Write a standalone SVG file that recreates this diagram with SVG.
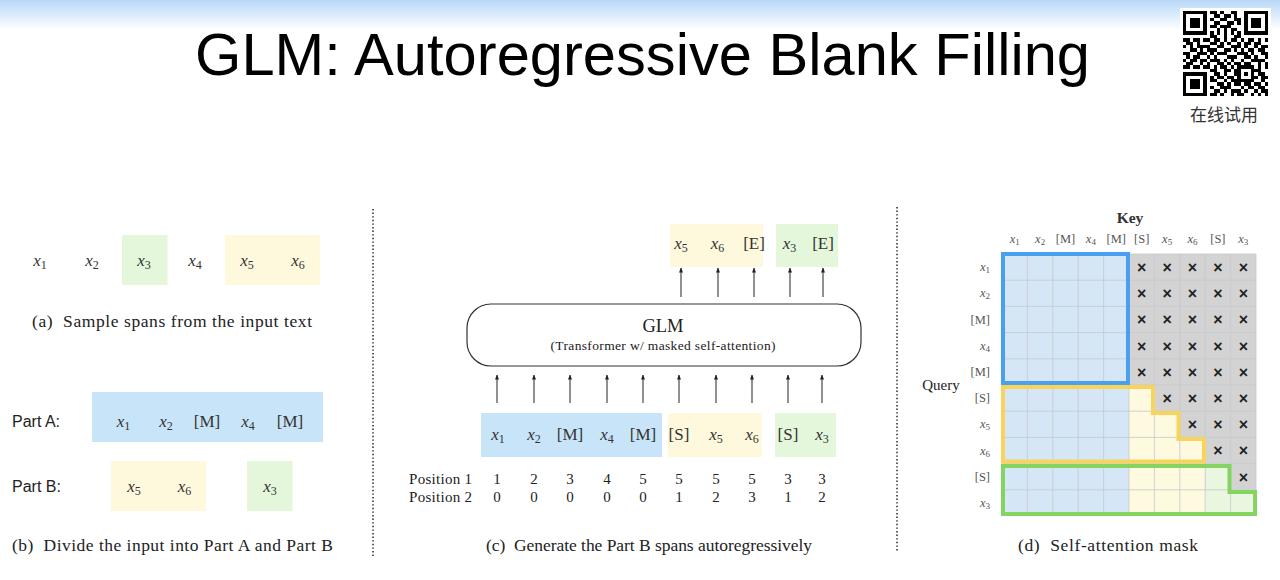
<svg xmlns="http://www.w3.org/2000/svg" width="1280" height="580" viewBox="0 0 1280 580">
<defs>
<linearGradient id="topg" x1="0" y1="0" x2="0" y2="1">
<stop offset="0" stop-color="#b9d8f8"/>
<stop offset="1" stop-color="#ffffff"/>
</linearGradient>
<marker id="ah" viewBox="0 0 10 10" refX="9" refY="5" markerWidth="5" markerHeight="5" orient="auto">
<path d="M0,1 L10,5 L0,9 z" fill="#222"/>
</marker>
<style>
.sf{font-family:"Liberation Serif","Times New Roman",serif}
.tok{font-family:"Liberation Serif","Times New Roman",serif;font-size:17px;fill:#333;text-anchor:middle}
.m{font-style:italic}
.sub{font-size:12px}
.cap{font-family:"Liberation Serif","Times New Roman",serif;font-size:17.5px;fill:#222}
.lab{font-family:"Liberation Sans",Arial,sans-serif;font-size:16px;fill:#222}
.pos{font-family:"Liberation Serif","Times New Roman",serif;font-size:15px;fill:#222}
.num{font-family:"Liberation Serif","Times New Roman",serif;font-size:15px;fill:#222;text-anchor:middle}
.ml{font-family:"Liberation Serif","Times New Roman",serif;font-size:12.5px;fill:#555}
.msub{font-size:9px}
.kx{font-family:"Liberation Sans",Arial,sans-serif;font-size:16px;font-weight:bold;fill:#222;text-anchor:middle}
.blue{fill:#c8e4f8}
.yel{fill:#fef8dc}
.grn{fill:#e4f7da}
.arr{stroke:#222;stroke-width:1;fill:none;marker-end:url(#ah)}
.dots{stroke:#333;stroke-width:1.6;stroke-dasharray:1.4 2.2;fill:none}
.gl{stroke:#c6c8cc;stroke-width:0.8}
</style>
</defs>
<rect x="0" y="0" width="1280" height="580" fill="#ffffff"/>
<rect x="0" y="0" width="1280" height="30" fill="url(#topg)"/>

<g id="title">
<text x="195" y="75" font-family="Liberation Sans, Arial, sans-serif" font-size="59.5" fill="#000" textLength="895" lengthAdjust="spacingAndGlyphs">GLM: Autoregressive Blank Filling</text>
</g>

<g id="qrcode">
<rect x="1180" y="8" width="91" height="91" fill="#fff"/>
<path transform="translate(1183,11) scale(3.4)" fill="#000" shape-rendering="crispEdges" d="
M0 0h7v1h-7z M8 0h2v1h-2z M11 0h1v1h-1z M14 0h2v1h-2z M18 0h7v1h-7z
M0 1h1v1h-1z M6 1h1v1h-1z M9 1h2v1h-2z M12 1h2v1h-2z M15 1h1v1h-1z M18 1h1v1h-1z M24 1h1v1h-1z
M0 2h1v1h-1z M2 2h3v1h-3z M6 2h1v1h-1z M8 2h1v1h-1z M11 2h2v1h-2z M15 2h2v1h-2z M18 2h1v1h-1z M20 2h3v1h-3z M24 2h1v1h-1z
M0 3h1v1h-1z M2 3h3v1h-3z M6 3h1v1h-1z M9 3h2v1h-2z M13 3h2v1h-2z M16 3h1v1h-1z M18 3h1v1h-1z M20 3h3v1h-3z M24 3h1v1h-1z
M0 4h1v1h-1z M2 4h3v1h-3z M6 4h1v1h-1z M8 4h2v1h-2z M11 4h3v1h-3z M18 4h1v1h-1z M20 4h3v1h-3z M24 4h1v1h-1z
M0 5h1v1h-1z M6 5h1v1h-1z M10 5h1v1h-1z M12 5h1v1h-1z M14 5h2v1h-2z M18 5h1v1h-1z M24 5h1v1h-1z
M0 6h7v1h-7z M8 6h1v1h-1z M10 6h1v1h-1z M12 6h1v1h-1z M14 6h1v1h-1z M16 6h1v1h-1z M18 6h7v1h-7z
M8 7h2v1h-2z M12 7h1v1h-1z M15 7h2v1h-2z
M0 8h2v1h-2z M3 8h2v1h-2z M6 8h2v1h-2z M9 8h2v1h-2z M12 8h1v1h-1z M14 8h2v1h-2z M17 8h1v1h-1z M19 8h2v1h-2z M22 8h1v1h-1z M24 8h1v1h-1z
M1 9h2v1h-2z M4 9h1v1h-1z M8 9h2v1h-2z M11 9h1v1h-1z M13 9h1v1h-1z M16 9h1v1h-1z M18 9h2v1h-2z M21 9h2v1h-2z
M0 10h1v1h-1z M2 10h1v1h-1z M4 10h4v1h-4z M10 10h2v1h-2z M14 10h3v1h-3z M18 10h1v1h-1z M21 10h1v1h-1z M23 10h2v1h-2z
M2 11h2v1h-2z M5 11h1v1h-1z M7 11h3v1h-3z M12 11h2v1h-2z M15 11h1v1h-1z M17 11h1v1h-1z M19 11h2v1h-2z M22 11h2v1h-2z
M0 12h2v1h-2z M4 12h3v1h-3z M8 12h1v1h-1z M10 12h3v1h-3z M16 12h3v1h-3z M20 12h1v1h-1z M23 12h2v1h-2z
M1 13h1v1h-1z M3 13h2v1h-2z M7 13h1v1h-1z M9 13h1v1h-1z M13 13h3v1h-3z M18 13h2v1h-2z M21 13h1v1h-1z M24 13h1v1h-1z
M0 14h1v1h-1z M2 14h2v1h-2z M5 14h2v1h-2z M8 14h3v1h-3z M12 14h1v1h-1z M14 14h1v1h-1z M17 14h1v1h-1z M20 14h4v1h-4z
M1 15h2v1h-2z M5 15h1v1h-1z M7 15h1v1h-1z M10 15h2v1h-2z M13 15h1v1h-1z M15 15h2v1h-2z M18 15h2v1h-2z M22 15h1v1h-1z M24 15h1v1h-1z
M0 16h2v1h-2z M3 16h2v1h-2z M6 16h2v1h-2z M9 16h1v1h-1z M11 16h2v1h-2z M14 16h1v1h-1z M16 16h5v1h-5z M22 16h1v1h-1z M24 16h1v1h-1z
M8 17h2v1h-2z M12 17h2v1h-2z M15 17h2v1h-2z M20 17h3v1h-3z
M0 18h7v1h-7z M9 18h2v1h-2z M12 18h1v1h-1z M15 18h2v1h-2z M18 18h1v1h-1z M20 18h1v1h-1z M22 18h2v1h-2z
M0 19h1v1h-1z M6 19h1v1h-1z M8 19h1v1h-1z M10 19h2v1h-2z M13 19h2v1h-2z M16 19h1v1h-1z M20 19h2v1h-2z M23 19h2v1h-2z
M0 20h1v1h-1z M2 20h3v1h-3z M6 20h1v1h-1z M8 20h2v1h-2z M12 20h1v1h-1z M14 20h7v1h-7z M23 20h1v1h-1z
M0 21h1v1h-1z M2 21h3v1h-3z M6 21h1v1h-1z M10 21h2v1h-2z M13 21h1v1h-1z M15 21h2v1h-2z M18 21h2v1h-2z M21 21h2v1h-2z M24 21h1v1h-1z
M0 22h1v1h-1z M2 22h3v1h-3z M6 22h1v1h-1z M8 22h1v1h-1z M11 22h3v1h-3z M17 22h1v1h-1z M19 22h2v1h-2z M22 22h2v1h-2z
M0 23h1v1h-1z M6 23h1v1h-1z M9 23h2v1h-2z M12 23h1v1h-1z M14 23h3v1h-3z M18 23h1v1h-1z M21 23h1v1h-1z M23 23h2v1h-2z
M0 24h7v1h-7z M8 24h2v1h-2z M11 24h1v1h-1z M14 24h1v1h-1z M16 24h2v1h-2z M20 24h1v1h-1z M22 24h1v1h-1z M24 24h1v1h-1z"/>
<text x="1224" y="121" text-anchor="middle" font-family="Noto Sans CJK SC, sans-serif" font-size="17" fill="#333">在线试用</text>
</g>

<g id="separators">
<line class="dots" x1="373" y1="209" x2="373" y2="556"/>
<line class="dots" x1="897" y1="207" x2="897" y2="552"/>
</g>

<!-- Panel (a) -->
<g id="panel-a">
<rect class="grn" x="122" y="235" width="45.5" height="50"/>
<rect class="yel" x="225" y="235" width="95" height="50"/>
<text class="tok" x="40" y="266"><tspan class="m">x</tspan><tspan class="sub" dy="3">1</tspan></text>
<text class="tok" x="92" y="266"><tspan class="m">x</tspan><tspan class="sub" dy="3">2</tspan></text>
<text class="tok" x="144" y="266"><tspan class="m">x</tspan><tspan class="sub" dy="3">3</tspan></text>
<text class="tok" x="195" y="266"><tspan class="m">x</tspan><tspan class="sub" dy="3">4</tspan></text>
<text class="tok" x="247" y="266"><tspan class="m">x</tspan><tspan class="sub" dy="3">5</tspan></text>
<text class="tok" x="298" y="266"><tspan class="m">x</tspan><tspan class="sub" dy="3">6</tspan></text>
<text class="cap" x="32" y="327" textLength="280" lengthAdjust="spacing">(a)&#160; Sample spans from the input text</text>
</g>

<!-- Panel (b) -->
<g id="panel-b">
<text class="lab" x="12" y="427">Part A:</text>
<rect class="blue" x="92" y="392" width="231" height="50"/>
<text class="tok" x="123.5" y="427"><tspan class="m">x</tspan><tspan class="sub" dy="3">1</tspan></text>
<text class="tok" x="166" y="427"><tspan class="m">x</tspan><tspan class="sub" dy="3">2</tspan></text>
<text class="tok" x="207" y="427">[M]</text>
<text class="tok" x="248" y="427"><tspan class="m">x</tspan><tspan class="sub" dy="3">4</tspan></text>
<text class="tok" x="290" y="427">[M]</text>
<text class="lab" x="12" y="492">Part B:</text>
<rect class="yel" x="111" y="461" width="95" height="50"/>
<rect class="grn" x="247" y="461" width="45.5" height="50"/>
<text class="tok" x="134" y="492"><tspan class="m">x</tspan><tspan class="sub" dy="3">5</tspan></text>
<text class="tok" x="184.5" y="492"><tspan class="m">x</tspan><tspan class="sub" dy="3">6</tspan></text>
<text class="tok" x="270" y="492"><tspan class="m">x</tspan><tspan class="sub" dy="3">3</tspan></text>
<text class="cap" x="12" y="551" textLength="321" lengthAdjust="spacing">(b)&#160; Divide the input into Part A and Part B</text>
</g>

<!-- Panel (c) -->
<g id="panel-c-outputs">
<rect class="yel" x="670" y="224" width="93" height="43"/>
<rect class="grn" x="776" y="224" width="62" height="43"/>
<text class="tok" x="681" y="249"><tspan class="m">x</tspan><tspan class="sub" dy="3">5</tspan></text>
<text class="tok" x="717.5" y="249"><tspan class="m">x</tspan><tspan class="sub" dy="3">6</tspan></text>
<text class="tok" x="754" y="249">[E]</text>
<text class="tok" x="789.5" y="249"><tspan class="m">x</tspan><tspan class="sub" dy="3">3</tspan></text>
<text class="tok" x="823" y="249">[E]</text>
</g>

<g id="glm-box">
<rect x="467" y="304" width="394" height="62" rx="24" ry="24" fill="#fff" stroke="#333" stroke-width="1.2"/>
<text class="sf" x="663" y="332" text-anchor="middle" font-size="18.5" fill="#222">GLM</text>
<text class="sf" x="663" y="350" text-anchor="middle" font-size="13.5" fill="#222" textLength="225" lengthAdjust="spacing">(Transformer w/ masked self-attention)</text>
</g>

<g id="panel-c-inputs">
<rect class="blue" x="481" y="413" width="181" height="44"/>
<rect class="yel" x="668" y="413" width="94" height="44"/>
<rect class="grn" x="775" y="413" width="61" height="44"/>
<text class="tok" x="498" y="440"><tspan class="m">x</tspan><tspan class="sub" dy="3">1</tspan></text>
<text class="tok" x="534" y="440"><tspan class="m">x</tspan><tspan class="sub" dy="3">2</tspan></text>
<text class="tok" x="570" y="440">[M]</text>
<text class="tok" x="607" y="440"><tspan class="m">x</tspan><tspan class="sub" dy="3">4</tspan></text>
<text class="tok" x="643" y="440">[M]</text>
<text class="tok" x="679" y="440">[S]</text>
<text class="tok" x="716" y="440"><tspan class="m">x</tspan><tspan class="sub" dy="3">5</tspan></text>
<text class="tok" x="752" y="440"><tspan class="m">x</tspan><tspan class="sub" dy="3">6</tspan></text>
<text class="tok" x="788" y="440">[S]</text>
<text class="tok" x="822" y="440"><tspan class="m">x</tspan><tspan class="sub" dy="3">3</tspan></text>
</g>

<g id="positions">
<text class="pos" x="409" y="484" textLength="63" lengthAdjust="spacing">Position 1</text>
<text class="pos" x="409" y="502" textLength="63" lengthAdjust="spacing">Position 2</text>
<text class="num" x="497" y="484">1</text><text class="num" x="534" y="484">2</text><text class="num" x="570" y="484">3</text><text class="num" x="607" y="484">4</text><text class="num" x="643" y="484">5</text>
<text class="num" x="679" y="484">5</text><text class="num" x="716" y="484">5</text><text class="num" x="752" y="484">5</text><text class="num" x="788" y="484">3</text><text class="num" x="822" y="484">3</text>
<text class="num" x="497" y="502">0</text><text class="num" x="534" y="502">0</text><text class="num" x="570" y="502">0</text><text class="num" x="607" y="502">0</text><text class="num" x="643" y="502">0</text>
<text class="num" x="679" y="502">1</text><text class="num" x="716" y="502">2</text><text class="num" x="752" y="502">3</text><text class="num" x="788" y="502">1</text><text class="num" x="822" y="502">2</text>
<text class="cap" x="486" y="551" textLength="326" lengthAdjust="spacing">(c)&#160; Generate the Part B spans autoregressively</text>
</g>

<g id="connectors">
<line class="arr" x1="497" y1="403" x2="497" y2="375"/>
<line class="arr" x1="534" y1="403" x2="534" y2="375"/>
<line class="arr" x1="570" y1="403" x2="570" y2="375"/>
<line class="arr" x1="607" y1="403" x2="607" y2="375"/>
<line class="arr" x1="643" y1="403" x2="643" y2="375"/>
<line class="arr" x1="679" y1="403" x2="679" y2="375"/>
<line class="arr" x1="716" y1="403" x2="716" y2="375"/>
<line class="arr" x1="752" y1="403" x2="752" y2="375"/>
<line class="arr" x1="788" y1="403" x2="788" y2="375"/>
<line class="arr" x1="822" y1="403" x2="822" y2="375"/>
<line class="arr" x1="681" y1="297" x2="681" y2="268"/>
<line class="arr" x1="718" y1="297" x2="718" y2="268"/>
<line class="arr" x1="754" y1="297" x2="754" y2="268"/>
<line class="arr" x1="790" y1="297" x2="790" y2="268"/>
<line class="arr" x1="823" y1="297" x2="823" y2="268"/>
</g>

<!-- Panel (d) -->
<g id="mask-matrix">
<rect x="1002" y="254" width="127" height="262" fill="#d5e6f6"/>
<rect x="1129" y="254" width="127" height="236" fill="#d3d3d3"/>
<polygon points="1129,385 1154.4,385 1154.4,411.2 1179.8,411.2 1179.8,437.4 1205.2,437.4 1205.2,516 1129,516" fill="#fdfae0"/>
<polygon points="1205.2,463.6 1230.6,463.6 1230.6,489.8 1256,489.8 1256,516 1205.2,516" fill="#eaf7e0"/>
<g class="gl">
<line x1="1027.4" y1="254" x2="1027.4" y2="516"/><line x1="1052.8" y1="254" x2="1052.8" y2="516"/><line x1="1078.2" y1="254" x2="1078.2" y2="516"/><line x1="1103.6" y1="254" x2="1103.6" y2="516"/><line x1="1129" y1="254" x2="1129" y2="516"/><line x1="1154.4" y1="254" x2="1154.4" y2="516"/><line x1="1179.8" y1="254" x2="1179.8" y2="516"/><line x1="1205.2" y1="254" x2="1205.2" y2="516"/><line x1="1230.6" y1="254" x2="1230.6" y2="516"/><line x1="1256" y1="254" x2="1256" y2="516"/>
<line x1="1002" y1="280.2" x2="1256" y2="280.2"/><line x1="1002" y1="306.4" x2="1256" y2="306.4"/><line x1="1002" y1="332.6" x2="1256" y2="332.6"/><line x1="1002" y1="358.8" x2="1256" y2="358.8"/><line x1="1002" y1="385" x2="1256" y2="385"/><line x1="1002" y1="411.2" x2="1256" y2="411.2"/><line x1="1002" y1="437.4" x2="1256" y2="437.4"/><line x1="1002" y1="463.6" x2="1256" y2="463.6"/><line x1="1002" y1="489.8" x2="1256" y2="489.8"/><line x1="1002" y1="254" x2="1256" y2="254"/>
</g>
<g id="mask-x">
<text class="kx" x="1141.7" y="273">×</text><text class="kx" x="1167.1" y="273">×</text><text class="kx" x="1192.5" y="273">×</text><text class="kx" x="1217.9" y="273">×</text><text class="kx" x="1243.3" y="273">×</text>
<text class="kx" x="1141.7" y="299.2">×</text><text class="kx" x="1167.1" y="299.2">×</text><text class="kx" x="1192.5" y="299.2">×</text><text class="kx" x="1217.9" y="299.2">×</text><text class="kx" x="1243.3" y="299.2">×</text>
<text class="kx" x="1141.7" y="325.4">×</text><text class="kx" x="1167.1" y="325.4">×</text><text class="kx" x="1192.5" y="325.4">×</text><text class="kx" x="1217.9" y="325.4">×</text><text class="kx" x="1243.3" y="325.4">×</text>
<text class="kx" x="1141.7" y="351.6">×</text><text class="kx" x="1167.1" y="351.6">×</text><text class="kx" x="1192.5" y="351.6">×</text><text class="kx" x="1217.9" y="351.6">×</text><text class="kx" x="1243.3" y="351.6">×</text>
<text class="kx" x="1141.7" y="377.8">×</text><text class="kx" x="1167.1" y="377.8">×</text><text class="kx" x="1192.5" y="377.8">×</text><text class="kx" x="1217.9" y="377.8">×</text><text class="kx" x="1243.3" y="377.8">×</text>
<text class="kx" x="1167.1" y="404">×</text><text class="kx" x="1192.5" y="404">×</text><text class="kx" x="1217.9" y="404">×</text><text class="kx" x="1243.3" y="404">×</text>
<text class="kx" x="1192.5" y="430.2">×</text><text class="kx" x="1217.9" y="430.2">×</text><text class="kx" x="1243.3" y="430.2">×</text>
<text class="kx" x="1217.9" y="456.4">×</text><text class="kx" x="1243.3" y="456.4">×</text>
<text class="kx" x="1243.3" y="482.6">×</text>
</g>
<rect x="1003" y="254" width="125" height="129" fill="none" stroke="#4aa0ee" stroke-width="4"/>
<polygon points="1003,387 1153,387 1153,413 1178.5,413 1178.5,439 1204,439 1204,461.5 1003,461.5" fill="none" stroke="#f9d45c" stroke-width="4"/>
<polygon points="1003,466 1229.5,466 1229.5,492 1255,492 1255,514 1003,514" fill="none" stroke="#84d461" stroke-width="4"/>
</g>

<g id="mask-key-labels">
<text class="sf" x="1130" y="223" text-anchor="middle" font-size="15.5" font-weight="bold" fill="#333">Key</text>
<text class="ml" x="1014.7" y="243" text-anchor="middle"><tspan class="m">x</tspan><tspan class="msub" dy="2">1</tspan></text>
<text class="ml" x="1040.1" y="243" text-anchor="middle"><tspan class="m">x</tspan><tspan class="msub" dy="2">2</tspan></text>
<text class="ml" x="1065.5" y="243" text-anchor="middle">[M]</text>
<text class="ml" x="1090.9" y="243" text-anchor="middle"><tspan class="m">x</tspan><tspan class="msub" dy="2">4</tspan></text>
<text class="ml" x="1116.3" y="243" text-anchor="middle">[M]</text>
<text class="ml" x="1141.7" y="243" text-anchor="middle">[S]</text>
<text class="ml" x="1167.1" y="243" text-anchor="middle"><tspan class="m">x</tspan><tspan class="msub" dy="2">5</tspan></text>
<text class="ml" x="1192.5" y="243" text-anchor="middle"><tspan class="m">x</tspan><tspan class="msub" dy="2">6</tspan></text>
<text class="ml" x="1217.9" y="243" text-anchor="middle">[S]</text>
<text class="ml" x="1243.3" y="243" text-anchor="middle"><tspan class="m">x</tspan><tspan class="msub" dy="2">3</tspan></text>
</g>

<g id="mask-query-labels">
<text class="sf" x="941" y="390" text-anchor="middle" font-size="15" fill="#222">Query</text>
<text class="ml" x="990" y="271" text-anchor="end"><tspan class="m">x</tspan><tspan class="msub" dy="2">1</tspan></text>
<text class="ml" x="990" y="297.3" text-anchor="end"><tspan class="m">x</tspan><tspan class="msub" dy="2">2</tspan></text>
<text class="ml" x="990" y="323.5" text-anchor="end">[M]</text>
<text class="ml" x="990" y="349.7" text-anchor="end"><tspan class="m">x</tspan><tspan class="msub" dy="2">4</tspan></text>
<text class="ml" x="990" y="375.9" text-anchor="end">[M]</text>
<text class="ml" x="990" y="402.1" text-anchor="end">[S]</text>
<text class="ml" x="990" y="428.3" text-anchor="end"><tspan class="m">x</tspan><tspan class="msub" dy="2">5</tspan></text>
<text class="ml" x="990" y="454.5" text-anchor="end"><tspan class="m">x</tspan><tspan class="msub" dy="2">6</tspan></text>
<text class="ml" x="990" y="480.7" text-anchor="end">[S]</text>
<text class="ml" x="990" y="506.9" text-anchor="end"><tspan class="m">x</tspan><tspan class="msub" dy="2">3</tspan></text>
<text class="cap" x="1018" y="551" textLength="180" lengthAdjust="spacing">(d)&#160; Self-attention mask</text>
</g>
</svg>
